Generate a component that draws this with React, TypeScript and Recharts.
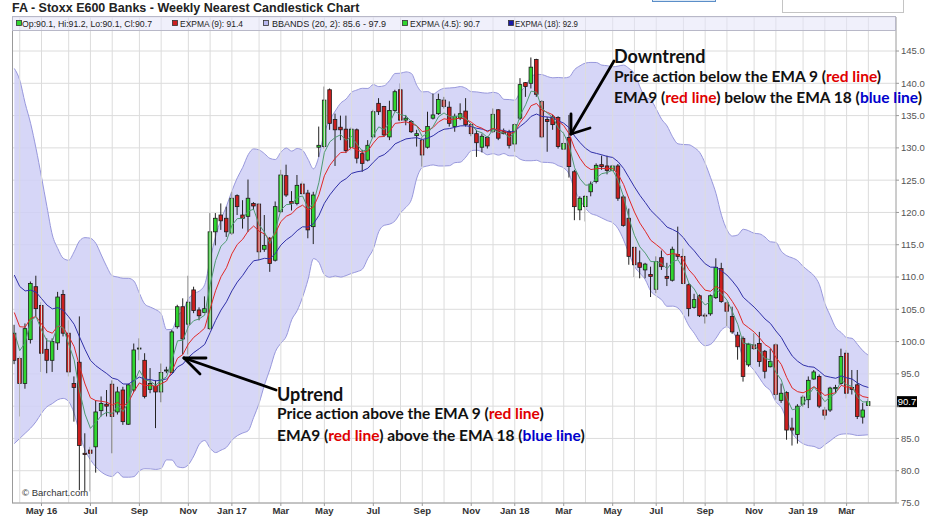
import React from "react";
import { ComposedChart, Bar, Line, Area, XAxis, YAxis, CartesianGrid, ReferenceLine } from "recharts";

// weekly candles, first bar = week of 28 Mar 2016
const opens = [
  101.3, 97.4, 93.5, 100.3, 108.5, 105.6, 98.8, 97.1, 99.8, 107.3,
  101.3, 93.5, 96.8, 82.7, 83.2, 83.7, 89.3, 90.3, 93.4, 89.1,
  92.5, 87.2, 92.5, 98.9, 97.1, 92.6, 93.1, 92.2, 95.5, 95.2,
  102.3, 105.4, 102.7, 108.0, 104.9, 104.5, 102.0, 117.0, 119.6, 119.1,
  116.8, 122.6, 119.6, 119.4, 121.4, 121.3, 114.3, 116.0, 112.6, 120.1,
  125.7, 121.7, 121.4, 124.4, 123.0, 117.8, 130.1, 130.2, 139.0, 134.4,
  133.2, 132.9, 130.1, 132.8, 129.1, 128.1, 131.7, 136.9, 136.4, 131.7,
  135.8, 139.0, 134.3, 134.1, 131.9, 131.2, 130.1, 134.6, 135.3, 137.4,
  136.3, 133.3, 134.6, 135.7, 133.6, 132.2, 130.1, 131.6, 132.5, 135.9,
  132.5, 132.5, 130.6, 134.6, 140.1, 140.0, 143.7, 137.2, 134.4, 134.8,
  134.7, 129.8, 131.6, 126.3, 120.4, 120.9, 123.2, 124.8, 127.4, 127.2,
  126.5, 127.2, 122.4, 119.1, 114.6, 112.2, 111.1, 110.4, 108.1, 113.0,
  110.1, 109.5, 113.5, 113.2, 108.8, 105.3, 107.1, 104.1, 104.3, 106.8,
  111.3, 106.0, 103.9, 101.0, 100.5, 96.4, 99.5, 99.7, 98.5, 96.1,
  99.5, 90.9, 92.1, 86.6, 85.6, 90.3, 91.0, 94.2, 94.6, 89.4,
  89.4, 92.7, 93.5, 98.2, 92.9, 93.3, 88.3, 90.1,
];
const highs = [
  102.6, 97.7, 102.8, 109.3, 110.2, 106.1, 100.5, 100.5, 107.7, 108.0,
  103.3, 94.6, 103.9, 85.8, 83.7, 90.9, 91.5, 92.5, 94.0, 93.0,
  93.0, 93.5, 99.7, 100.5, 98.2, 95.9, 94.0, 96.6, 96.1, 101.8,
  105.7, 106.7, 110.2, 108.5, 105.3, 107.0, 119.9, 119.9, 121.4, 120.9,
  123.2, 122.8, 121.9, 125.1, 121.6, 121.4, 119.6, 116.2, 121.7, 126.6,
  127.4, 123.3, 125.8, 124.8, 123.5, 123.2, 133.3, 139.5, 139.2, 135.3,
  135.0, 135.0, 133.2, 133.0, 129.7, 131.2, 135.9, 137.7, 136.5, 137.3,
  139.0, 140.0, 135.1, 134.3, 132.8, 131.7, 135.6, 138.4, 138.4, 137.9,
  137.2, 135.3, 136.9, 137.7, 133.8, 132.8, 132.2, 131.8, 136.1, 136.0,
  133.0, 132.8, 133.8, 140.8, 140.2, 144.0, 143.8, 137.4, 134.8, 135.1,
  134.9, 132.5, 135.1, 126.6, 122.5, 122.7, 124.8, 127.6, 128.8, 128.8,
  127.4, 127.5, 122.7, 120.6, 114.7, 114.1, 112.2, 111.6, 113.2, 114.1,
  112.2, 114.7, 117.8, 114.4, 109.0, 107.4, 107.3, 104.4, 107.3, 112.9,
  112.2, 106.2, 105.4, 101.5, 100.8, 99.8, 101.3, 101.5, 98.7, 98.9,
  99.7, 93.5, 92.3, 88.2, 90.3, 91.7, 94.6, 95.6, 94.9, 89.9,
  93.0, 93.3, 98.9, 98.7, 95.6, 95.6, 90.5, 91.2,
];
const lows = [
  96.5, 88.4, 92.7, 99.7, 103.9, 95.3, 95.1, 95.3, 98.7, 100.8,
  94.6, 87.6, 77.0, 76.8, 76.8, 79.7, 88.4, 88.4, 82.7, 88.7,
  87.1, 87.1, 92.2, 97.1, 91.2, 92.0, 86.6, 90.6, 95.1, 95.1,
  102.0, 98.0, 98.0, 104.4, 103.3, 104.4, 101.8, 114.9, 117.3, 116.2,
  116.5, 119.6, 117.5, 117.0, 120.4, 112.6, 113.9, 110.8, 112.4, 119.9,
  122.4, 120.3, 121.1, 122.7, 116.0, 115.1, 128.6, 129.9, 132.8, 127.2,
  131.2, 129.2, 129.6, 127.6, 126.3, 127.9, 131.5, 135.1, 131.7, 131.2,
  135.6, 134.1, 133.5, 132.3, 130.2, 127.1, 129.9, 134.4, 135.1, 136.1,
  133.3, 132.5, 134.3, 133.3, 131.8, 128.6, 129.3, 129.9, 132.3, 131.2,
  132.1, 129.9, 129.4, 134.3, 137.9, 139.2, 137.9, 131.5, 129.4, 132.8,
  129.9, 129.7, 125.4, 118.8, 118.8, 118.6, 122.5, 124.5, 126.6, 125.9,
  126.3, 121.8, 117.8, 111.9, 110.0, 109.8, 109.8, 106.9, 107.5, 111.1,
  108.6, 109.3, 112.7, 108.9, 103.9, 105.1, 103.8, 102.8, 104.0, 106.6,
  106.0, 102.4, 101.2, 97.2, 93.8, 96.1, 98.7, 96.1, 94.3, 96.0,
  91.0, 90.5, 84.8, 83.9, 84.2, 89.9, 89.7, 94.1, 89.7, 87.9,
  89.1, 92.0, 93.3, 91.2, 91.8, 88.0, 87.3, 90.1,
];
const closes = [
  97.1, 93.5, 102.0, 109.0, 105.1, 98.2, 97.1, 100.0, 106.9, 101.3,
  95.3, 92.9, 83.9, 82.5, 82.7, 89.1, 90.4, 90.0, 88.4, 92.2,
  87.6, 93.3, 98.7, 99.0, 91.5, 93.5, 92.2, 95.2, 95.6, 101.5,
  105.4, 100.4, 106.1, 104.8, 104.0, 105.1, 117.0, 119.1, 118.7, 117.0,
  122.2, 120.9, 119.1, 122.2, 121.0, 113.9, 114.9, 112.1, 120.9, 125.8,
  122.7, 121.4, 124.2, 122.9, 117.3, 122.7, 130.4, 137.4, 133.8, 132.8,
  132.8, 129.6, 132.9, 128.4, 127.6, 130.4, 135.6, 135.6, 132.0, 135.8,
  138.7, 134.3, 134.6, 132.5, 132.2, 128.9, 133.3, 135.1, 137.5, 136.4,
  133.8, 134.9, 135.3, 133.6, 132.2, 130.8, 131.8, 130.3, 135.2, 131.5,
  132.2, 130.4, 133.6, 139.8, 139.5, 142.5, 138.3, 131.7, 134.1, 133.6,
  130.2, 130.7, 127.1, 120.9, 122.2, 122.5, 124.4, 127.3, 127.1, 126.5,
  127.2, 122.2, 118.0, 113.2, 111.9, 111.5, 112.0, 110.1, 112.4, 111.6,
  109.8, 114.3, 113.2, 109.0, 105.1, 106.5, 104.0, 104.0, 107.1, 111.5,
  106.2, 104.7, 101.5, 99.2, 94.6, 99.6, 98.9, 96.9, 95.4, 96.9,
  91.8, 92.0, 86.3, 86.3, 90.0, 91.4, 94.0, 95.3, 90.0, 88.6,
  92.8, 92.9, 97.7, 92.0, 92.6, 88.4, 89.4, 90.7,
];

// band edges for the first 19 weeks (their 20-week window starts before the visible range)
const bbUpperHead = [142.3, 140.5, 136.9, 133.8, 129.9, 125.5, 120.9, 116.5, 114.4, 112.9, 112.6, 113.9, 115.6, 116.1, 116.0, 115.2, 113.4, 111.6, 110.2];
const bbLowerHead = [84.2, 85.0, 85.8, 86.6, 87.6, 88.9, 89.9, 90.4, 91.0, 91.2, 90.7, 88.9, 85.8, 83.2, 81.7, 80.6, 79.8, 79.3, 79.1];

// moving-average values on the first week
const ema45First = 101.5;
const ema9First = 104.5;
const ema18First = 110.3;

const yTicks = [75, 80, 85, 90, 95, 100, 105, 110, 115, 120, 125, 130, 135, 140, 145];
const labelWeeks = [5, 14, 23, 32, 40, 49, 57, 66, 75, 84, 92, 101, 110, 118, 127, 136, 145, 153];
const labelNames = ["May 16", "Jul", "Sep", "Nov", "Jan 17", "Mar", "May", "Jul", "Sep", "Nov", "Jan 18", "Mar", "May", "Jul", "Sep", "Nov", "Jan 19", "Mar"];
const monthWeeks = [1, 5, 10, 14, 18, 23, 27, 32, 36, 40, 45, 49, 53, 57, 62, 66, 71, 75, 79, 84, 88, 92, 97, 101, 105, 110, 114, 118, 123, 127, 131, 136, 140, 145, 149, 153, 157];

function ema(values: number[], period: number, first: number) {
  const k = 2 / (period + 1);
  const out: number[] = [first];
  for (let i = 1; i < values.length; i++) out.push(values[i] * k + out[i - 1] * (1 - k));
  return out;
}

const ema45 = ema(closes, 4.5, ema45First);
const ema9 = ema(closes, 9, ema9First);
const ema18 = ema(closes, 18, ema18First);
const lastClose = closes[closes.length - 1];

const data = closes.map((c, i) => {
  let lo = bbLowerHead[i];
  let hi = bbUpperHead[i];
  if (i >= 19) {
    const win = closes.slice(i - 19, i + 1);
    const mean = win.reduce((a, b) => a + b, 0) / 20;
    const sd = Math.sqrt(win.reduce((a, b) => a + (b - mean) * (b - mean), 0) / 20);
    lo = mean - 2 * sd;
    hi = mean + 2 * sd;
  }
  return {
    i,
    open: opens[i],
    high: highs[i],
    low: lows[i],
    close: c,
    range: [lows[i], highs[i]],
    band: [lo, hi],
    ema45: ema45[i],
    ema9: ema9[i],
    ema18: ema18[i],
  };
});

const Candle = (props: any) => {
  const { x, y, width, height, payload } = props;
  if (!payload) return null;
  const h = Math.abs(height);
  const top = Math.min(y, y + height);
  const k = h / (payload.high - payload.low || 1);
  const yv = (v: number) => top + (payload.high - v) * k;
  const cx = x + width / 2;
  const up = payload.close >= payload.open;
  const bTop = yv(Math.max(payload.open, payload.close));
  const bBot = yv(Math.min(payload.open, payload.close));
  return (
    <g>
      <line x1={cx} x2={cx} y1={top} y2={top + h} stroke="#222" strokeWidth={1} />
      <rect x={cx - 1.8} y={bTop} width={3.6} height={Math.max(1, bBot - bTop)} fill={up ? "#2fd62f" : "#cc1f1f"} stroke="#1c1c1c" strokeWidth={0.8} />
    </g>
  );
};

const LastPrice = (props: any) => {
  const vb = props.viewBox || {};
  const x = vb.x + vb.width + 1;
  return (
    <g>
      <rect x={x} y={vb.y - 5.5} width={20} height={11} fill="#000" />
      <text x={x + 10} y={vb.y + 3.5} textAnchor="middle" fontSize={9.5} fill="#fff" fontFamily="Liberation Sans, Arial, sans-serif">
        {lastClose.toFixed(1)}
      </text>
    </g>
  );
};

// legend entries: square x, text x, text width (px) as in the reference strip
const legendItems = [
  { color: "#2fd62f", text: "Op:90.1, Hi:91.2, Lo:90.1, Cl:90.7", sq: 16, tx: 22, w: 130 },
  { color: "#cc1f1f", text: "EXPMA (9): 91.4", sq: 172, tx: 180, w: 63 },
  { color: "#b8b8ee", text: "BBANDS (20, 2): 85.6 - 97.9", sq: 263, tx: 272, w: 114 },
  { color: "#2fd62f", text: "EXPMA (4.5): 90.7", sq: 402, tx: 410, w: 70 },
  { color: "#1a1aa8", text: "EXPMA (18): 92.9", sq: 508, tx: 515, w: 63 },
];

const sans = "Liberation Sans, Arial, sans-serif";
const note = "Lato, Open Sans, sans-serif";

export default function App() {
  return (
    <div style={{ position: "relative", width: 925, height: 521, background: "#fff", overflow: "hidden" }}>
      <style>{"body{margin:0}"}</style>
      <ComposedChart width={925} height={521} data={data} margin={{ top: 17, right: 0, bottom: 0, left: 12 }}>
        <CartesianGrid vertical={false} stroke="#dcdcdc" />
        {monthWeeks.map((w) => (
          <ReferenceLine key={w} x={w} stroke="#dcdcdc" />
        ))}
        <XAxis
          dataKey="i"
          type="number"
          domain={[-0.42, 162.08]}
          allowDataOverflow
          ticks={labelWeeks}
          interval={0}
          tickFormatter={(v) => labelNames[labelWeeks.indexOf(v)] ?? ""}
          axisLine={{ stroke: "#9a9a9a" }}
          tickLine={{ stroke: "#9a9a9a" }}
          tickSize={3}
          height={18}
          tickMargin={1}
          tick={{ fontSize: 9.5, fill: "#333", fontWeight: "bold", fontFamily: sans }}
        />
        <YAxis
          orientation="right"
          domain={[75, 150.27]}
          allowDataOverflow
          ticks={yTicks}
          interval={0}
          width={29}
          // the last-price box covers the nearest tick label, as on the original
          tickFormatter={(v) => (Math.abs(v - lastClose) < 2 ? "" : v.toFixed(1))}
          tickSize={3}
          tickMargin={2}
          axisLine={{ stroke: "#9a9a9a" }}
          tickLine={{ stroke: "#9a9a9a" }}
          tick={{ fontSize: 9.5, fill: "#555", fontFamily: sans }}
        />
        <Area dataKey="band" type="monotone" fill="#cfcff6" fillOpacity={0.85} stroke="#9898dc" strokeWidth={1} dot={false} activeDot={false} isAnimationActive={false} />
        <Line dataKey="ema18" stroke="#3030a8" strokeWidth={1} dot={false} isAnimationActive={false} />
        <Line dataKey="ema9" stroke="#e02828" strokeWidth={1} dot={false} isAnimationActive={false} />
        <Line dataKey="ema45" stroke="#4f9a72" strokeWidth={1} dot={false} isAnimationActive={false} />
        <Bar dataKey="range" barSize={5} shape={<Candle />} isAnimationActive={false} />
        <ReferenceLine y={lastClose} stroke="none" label={<LastPrice />} />
      </ComposedChart>

      {/* frame and title */}
      <div style={{ position: "absolute", left: 12, top: 17, width: 1, height: 486, background: "#9a9a9a" }} />
      <div style={{ position: "absolute", left: 12, top: 1, fontFamily: sans, fontWeight: "bold", fontSize: 12.5, color: "#222" }}>
        FA - Stoxx E600 Banks - Weekly Nearest Candlestick Chart
      </div>
      <div style={{ position: "absolute", left: 782, top: -2, width: 120, height: 13, border: "1px solid #c4c4c4", background: "#fff" }} />
      <div style={{ position: "absolute", left: 652, top: -2, width: 62, height: 2, border: "1px solid #5b8ec8", background: "#dde9f6" }} />
      <div style={{ position: "absolute", left: 22, top: 487, fontFamily: sans, fontSize: 9.5, color: "#333" }}>© Barchart.com</div>

      <svg width={925} height={521} style={{ position: "absolute", left: 0, top: 0, pointerEvents: "none" }}>
        {/* legend strip */}
        <rect x={12.5} y={16.5} width={883} height={14} fill="rgba(228,228,248,0.55)" stroke="#b8b8c8" />
        {legendItems.map((it) => (
          <g key={it.text}>
            <rect x={it.sq + 0.5} y={20.5} width={5} height={5} fill={it.color} stroke="#333" strokeWidth={0.8} />
            <text x={it.tx} y={27} fontSize={9.5} fill="#222" fontFamily={sans} textLength={it.w} lengthAdjust="spacingAndGlyphs">
              {it.text}
            </text>
          </g>
        ))}

        {/* annotations */}
        <g stroke="#000" strokeWidth={2.8} strokeLinecap="round" fill="none">
          <line x1={276} y1={390} x2={184} y2={358} />
          <line x1={184} y1={358} x2={206} y2={358} />
          <line x1={184} y1={358} x2={200} y2={374} />
          <line x1={614} y1={61} x2={571} y2={134} />
          <line x1={571} y1={134} x2={571} y2={114} />
          <line x1={571} y1={134} x2={590} y2={128} />
        </g>
        <g fontFamily={note} fontWeight="bold" fill="#111">
          <text x={277} y={401} fontSize={18}>Uptrend</text>
          <text x={277} y={419} fontSize={15.5}>
            Price action above the EMA 9 (<tspan fill="#e00000">red line</tspan>)
          </text>
          <text x={277} y={441} fontSize={15.5}>
            EMA9 (<tspan fill="#e00000">red line</tspan>) above the EMA 18 (<tspan fill="#0000cc">blue line</tspan>)
          </text>
          <text x={614} y={63} fontSize={18}>Downtrend</text>
          <text x={614} y={82} fontSize={15.5}>
            Price action below the EMA 9 (<tspan fill="#e00000">red line</tspan>)
          </text>
          <text x={614} y={103} fontSize={15.5}>
            EMA9 (<tspan fill="#e00000">red line</tspan>) below the EMA 18 (<tspan fill="#0000cc">blue line</tspan>)
          </text>
        </g>
      </svg>
    </div>
  );
}
